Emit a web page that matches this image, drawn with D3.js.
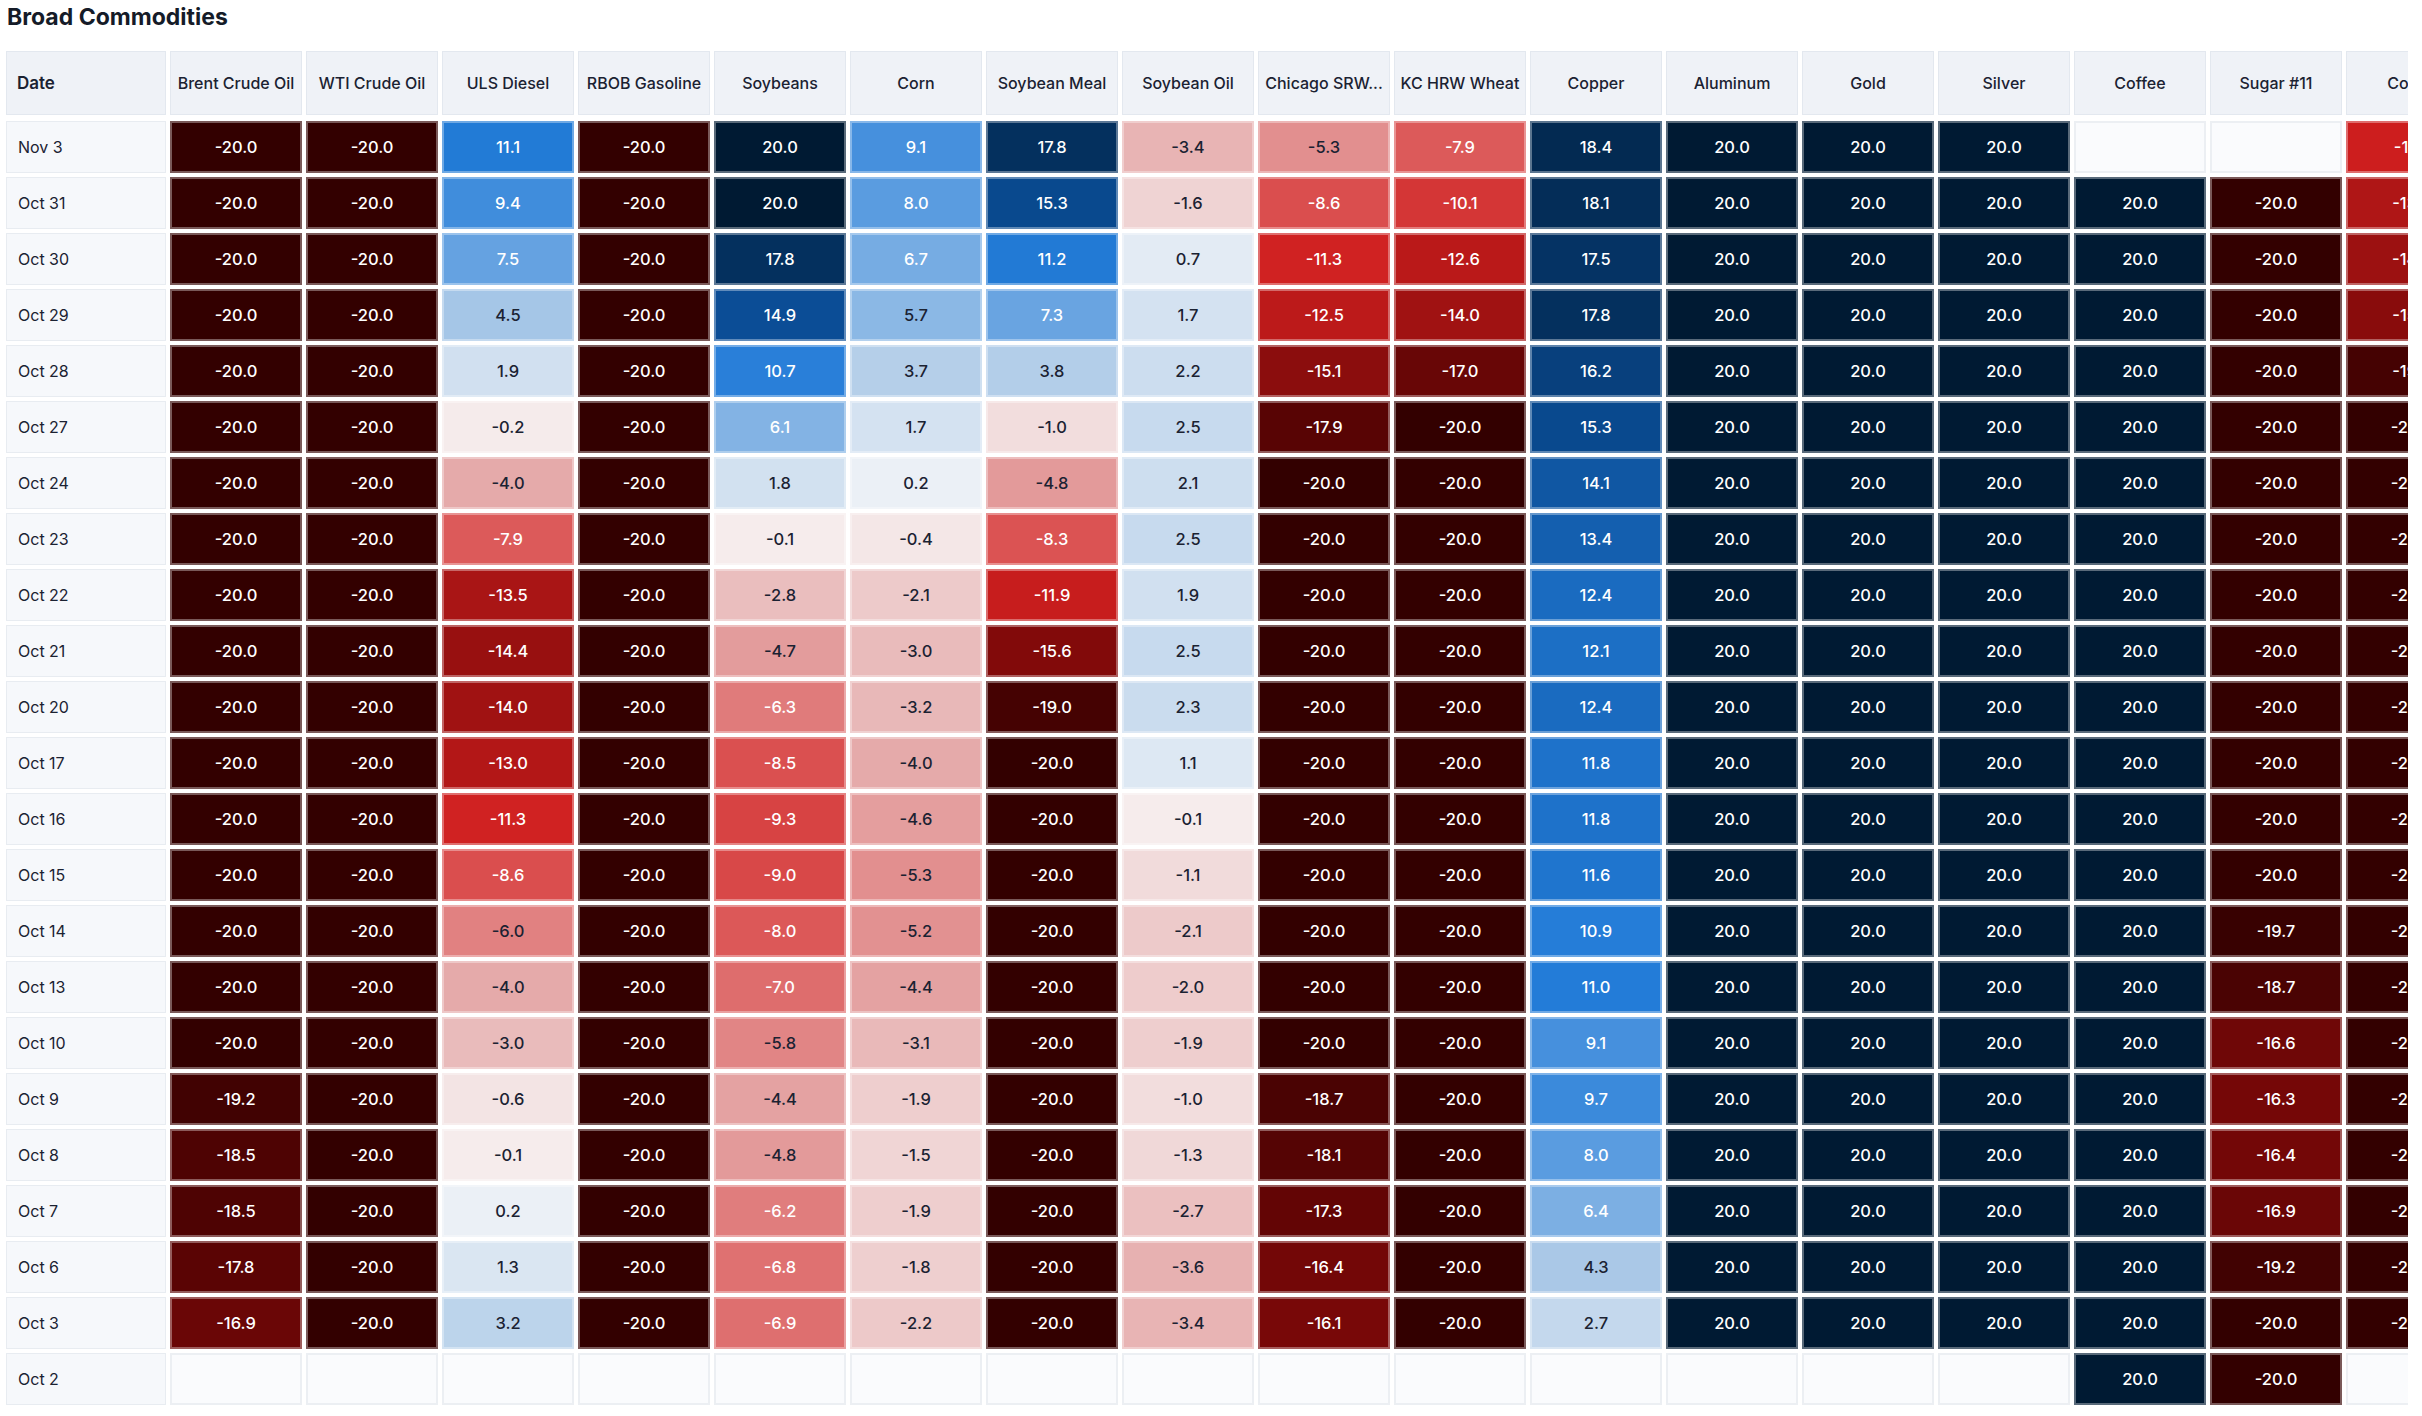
<!DOCTYPE html>
<html>
<head>
<meta charset="utf-8">
<script src="https://cdn.jsdelivr.net/npm/d3@7"></script>
<style>
  html, body { margin: 0; padding: 0; background: #ffffff; }
  svg { display: block; font-family: Inter, "Noto Sans", sans-serif; }
</style>
</head>
<body>
<svg id="chart" width="2422" height="1416"></svg>
<script>
// ---------------- data ----------------
const title = "Broad Commodities";
const dates = ["Nov 3","Oct 31","Oct 30","Oct 29","Oct 28","Oct 27","Oct 24","Oct 23","Oct 22","Oct 21","Oct 20","Oct 17","Oct 16","Oct 15","Oct 14","Oct 13","Oct 10","Oct 9","Oct 8","Oct 7","Oct 6","Oct 3","Oct 2"];
const commodities = ["Brent Crude Oil","WTI Crude Oil","ULS Diesel","RBOB Gasoline","Soybeans","Corn","Soybean Meal","Soybean Oil","Chicago SRW Wheat","KC HRW Wheat","Copper","Aluminum","Gold","Silver","Coffee","Sugar #11","Cocoa"];

const brent   = [-20,-20,-20,-20,-20,-20,-20,-20,-20,-20,-20,-20,-20,-20,-20,-20,-20,-19.2,-18.5,-18.5,-17.8,-16.9,null];
const wti     = [-20,-20,-20,-20,-20,-20,-20,-20,-20,-20,-20,-20,-20,-20,-20,-20,-20,-20,-20,-20,-20,-20,null];
const diesel  = [11.1,9.4,7.5,4.5,1.9,-0.2,-4.0,-7.9,-13.5,-14.4,-14.0,-13.0,-11.3,-8.6,-6.0,-4.0,-3.0,-0.6,-0.1,0.2,1.3,3.2,null];
const rbob    = [-20,-20,-20,-20,-20,-20,-20,-20,-20,-20,-20,-20,-20,-20,-20,-20,-20,-20,-20,-20,-20,-20,null];
const soybeans= [20,20,17.8,14.9,10.7,6.1,1.8,-0.1,-2.8,-4.7,-6.3,-8.5,-9.3,-9.0,-8.0,-7.0,-5.8,-4.4,-4.8,-6.2,-6.8,-6.9,null];
const corn    = [9.1,8.0,6.7,5.7,3.7,1.7,0.2,-0.4,-2.1,-3.0,-3.2,-4.0,-4.6,-5.3,-5.2,-4.4,-3.1,-1.9,-1.5,-1.9,-1.8,-2.2,null];
const soyMeal = [17.8,15.3,11.2,7.3,3.8,-1.0,-4.8,-8.3,-11.9,-15.6,-19.0,-20,-20,-20,-20,-20,-20,-20,-20,-20,-20,-20,null];
const soyOil  = [-3.4,-1.6,0.7,1.7,2.2,2.5,2.1,2.5,1.9,2.5,2.3,1.1,-0.1,-1.1,-2.1,-2.0,-1.9,-1.0,-1.3,-2.7,-3.6,-3.4,null];
const srwWheat= [-5.3,-8.6,-11.3,-12.5,-15.1,-17.9,-20,-20,-20,-20,-20,-20,-20,-20,-20,-20,-20,-18.7,-18.1,-17.3,-16.4,-16.1,null];
const hrwWheat= [-7.9,-10.1,-12.6,-14.0,-17.0,-20,-20,-20,-20,-20,-20,-20,-20,-20,-20,-20,-20,-20,-20,-20,-20,-20,null];
const copper  = [18.4,18.1,17.5,17.8,16.2,15.3,14.1,13.4,12.4,12.1,12.4,11.8,11.8,11.6,10.9,11.0,9.1,9.7,8.0,6.4,4.3,2.7,null];
const aluminum= [20,20,20,20,20,20,20,20,20,20,20,20,20,20,20,20,20,20,20,20,20,20,null];
const gold    = [20,20,20,20,20,20,20,20,20,20,20,20,20,20,20,20,20,20,20,20,20,20,null];
const silver  = [20,20,20,20,20,20,20,20,20,20,20,20,20,20,20,20,20,20,20,20,20,20,null];
const coffee  = [null,20,20,20,20,20,20,20,20,20,20,20,20,20,20,20,20,20,20,20,20,20,20];
const sugar   = [null,-20,-20,-20,-20,-20,-20,-20,-20,-20,-20,-20,-20,-20,-19.7,-18.7,-16.6,-16.3,-16.4,-16.9,-19.2,-20,-20];
const cocoa   = [-11.6,-13.2,-14.2,-15.2,-19.0,-20,-20,-20,-20,-20,-20,-20,-20,-20,-20,-20,-20,-20,-20,-20,-20,-20,null];

const series = [brent,wti,diesel,rbob,soybeans,corn,soyMeal,soyOil,srwWheat,hrwWheat,copper,aluminum,gold,silver,coffee,sugar,cocoa];

// colour ramp stops (value -> colour)
const negStops = [-20,-16,-11.5,-8,-4,0];
const negColors = ["#330000","#7a0808","#cf1f1f","#dc5858","#e5aaaa","#f6eeee"];
const posStops = [0,4,8,11,15,20];
const posColors = ["#eef2f7","#b0cce8","#5a9ce0","#237cd8","#0a4c94","#001a33"];

// ---------------- drawing ----------------
const svg = d3.select("#chart");

const cells = [];
series.forEach((arr, ci) => arr.forEach((v, ri) => cells.push({c: commodities[ci], d: dates[ri], v})));

const negScale = d3.scaleLinear().domain(negStops).range(negColors).interpolate(d3.interpolateRgb).clamp(true);
const posScale = d3.scaleLinear().domain(posStops).range(posColors).interpolate(d3.interpolateRgb).clamp(true);
const colorOf = v => v < 0 ? negScale(v) : posScale(v);

const x = d3.scaleBand().domain(commodities).range([168, 168 + 136 * commodities.length]).paddingInner(4/136).paddingOuter(2/136);
const y = d3.scaleBand().domain(dates).range([119, 119 + 56 * dates.length]).paddingInner(4/56).paddingOuter(2/56);
const dateX0 = 6, dateW = 160;
const headY = 51, headH = 64;

svg.append("text").attr("x", 7).attr("y", 25)
  .attr("font-size", 23).attr("font-weight", 700).attr("fill", "#151b28")
  .text(title);

svg.append("defs").append("clipPath").attr("id", "tclip")
  .append("rect").attr("x", 0).attr("y", 40).attr("width", 2408).attr("height", 1376);

const g = svg.append("g").attr("clip-path", "url(#tclip)");

// header
g.append("rect").attr("x", dateX0 + 0.5).attr("y", headY + 0.5).attr("width", dateW - 1).attr("height", headH - 1)
  .attr("fill", "#eff2f7").attr("stroke", "#e3e8ef");
g.append("text").attr("x", 17).attr("y", headY + headH / 2).attr("dy", "0.35em")
  .attr("font-size", 17).attr("font-weight", 600).attr("fill", "#1b2232").text("Date");

const hdr = g.selectAll(".hdr").data(commodities).join("g").attr("class", "hdr");
hdr.append("rect").attr("x", d => x(d) + 0.5).attr("y", headY + 0.5)
  .attr("width", x.bandwidth() - 1).attr("height", headH - 1)
  .attr("fill", "#eff2f7").attr("stroke", "#e3e8ef");
hdr.append("text").attr("x", d => x(d) + x.bandwidth() / 2).attr("y", headY + headH / 2).attr("dy", "0.35em")
  .attr("text-anchor", "middle").attr("font-size", 16).attr("font-weight", 500).attr("fill", "#1b2232")
  .text(d => d)
  .each(function(d) {
    const maxW = x.bandwidth() - 10;
    const el = d3.select(this);
    if (this.getComputedTextLength() > maxW) {
      let s = d;
      while (s.length > 1) {
        s = s.slice(0, -1).trimEnd();
        el.text(s + "...");
        if (this.getComputedTextLength() <= maxW) break;
      }
    }
  });

// date column
const dr = g.selectAll(".drow").data(dates).join("g").attr("class", "drow");
dr.append("rect").attr("x", dateX0 + 0.5).attr("y", d => y(d) + 0.5)
  .attr("width", dateW - 1).attr("height", y.bandwidth() - 1)
  .attr("fill", "#f6f8fb").attr("stroke", "#e8ecf1");
dr.append("text").attr("x", 18).attr("y", d => y(d) + y.bandwidth() / 2).attr("dy", "0.35em")
  .attr("font-size", 16).attr("font-weight", 400).attr("fill", "#1b2232").text(d => d);

// value cells
const cg = g.selectAll(".cell").data(cells).join("g").attr("class", "cell");
cg.append("rect")
  .attr("x", d => x(d.c) + 1).attr("y", d => y(d.d) + 1)
  .attr("width", x.bandwidth() - 2).attr("height", y.bandwidth() - 2)
  .attr("fill", d => d.v == null ? "#fafbfd" : colorOf(d.v))
  .attr("stroke", d => d.v == null ? "#eceff3" : d3.interpolateRgb(colorOf(d.v), "#ffffff")(0.35))
  .attr("stroke-width", 2);
cg.filter(d => d.v != null).append("text")
  .attr("x", d => x(d.c) + x.bandwidth() / 2).attr("y", d => y(d.d) + y.bandwidth() / 2).attr("dy", "0.35em")
  .attr("text-anchor", "middle").attr("font-size", 16.5).attr("font-weight", 500)
  .attr("fill", d => Math.abs(d.v) > 6 ? "#ffffff" : "#1b2232")
  .text(d => d.v.toFixed(1));
</script>
</body>
</html>
